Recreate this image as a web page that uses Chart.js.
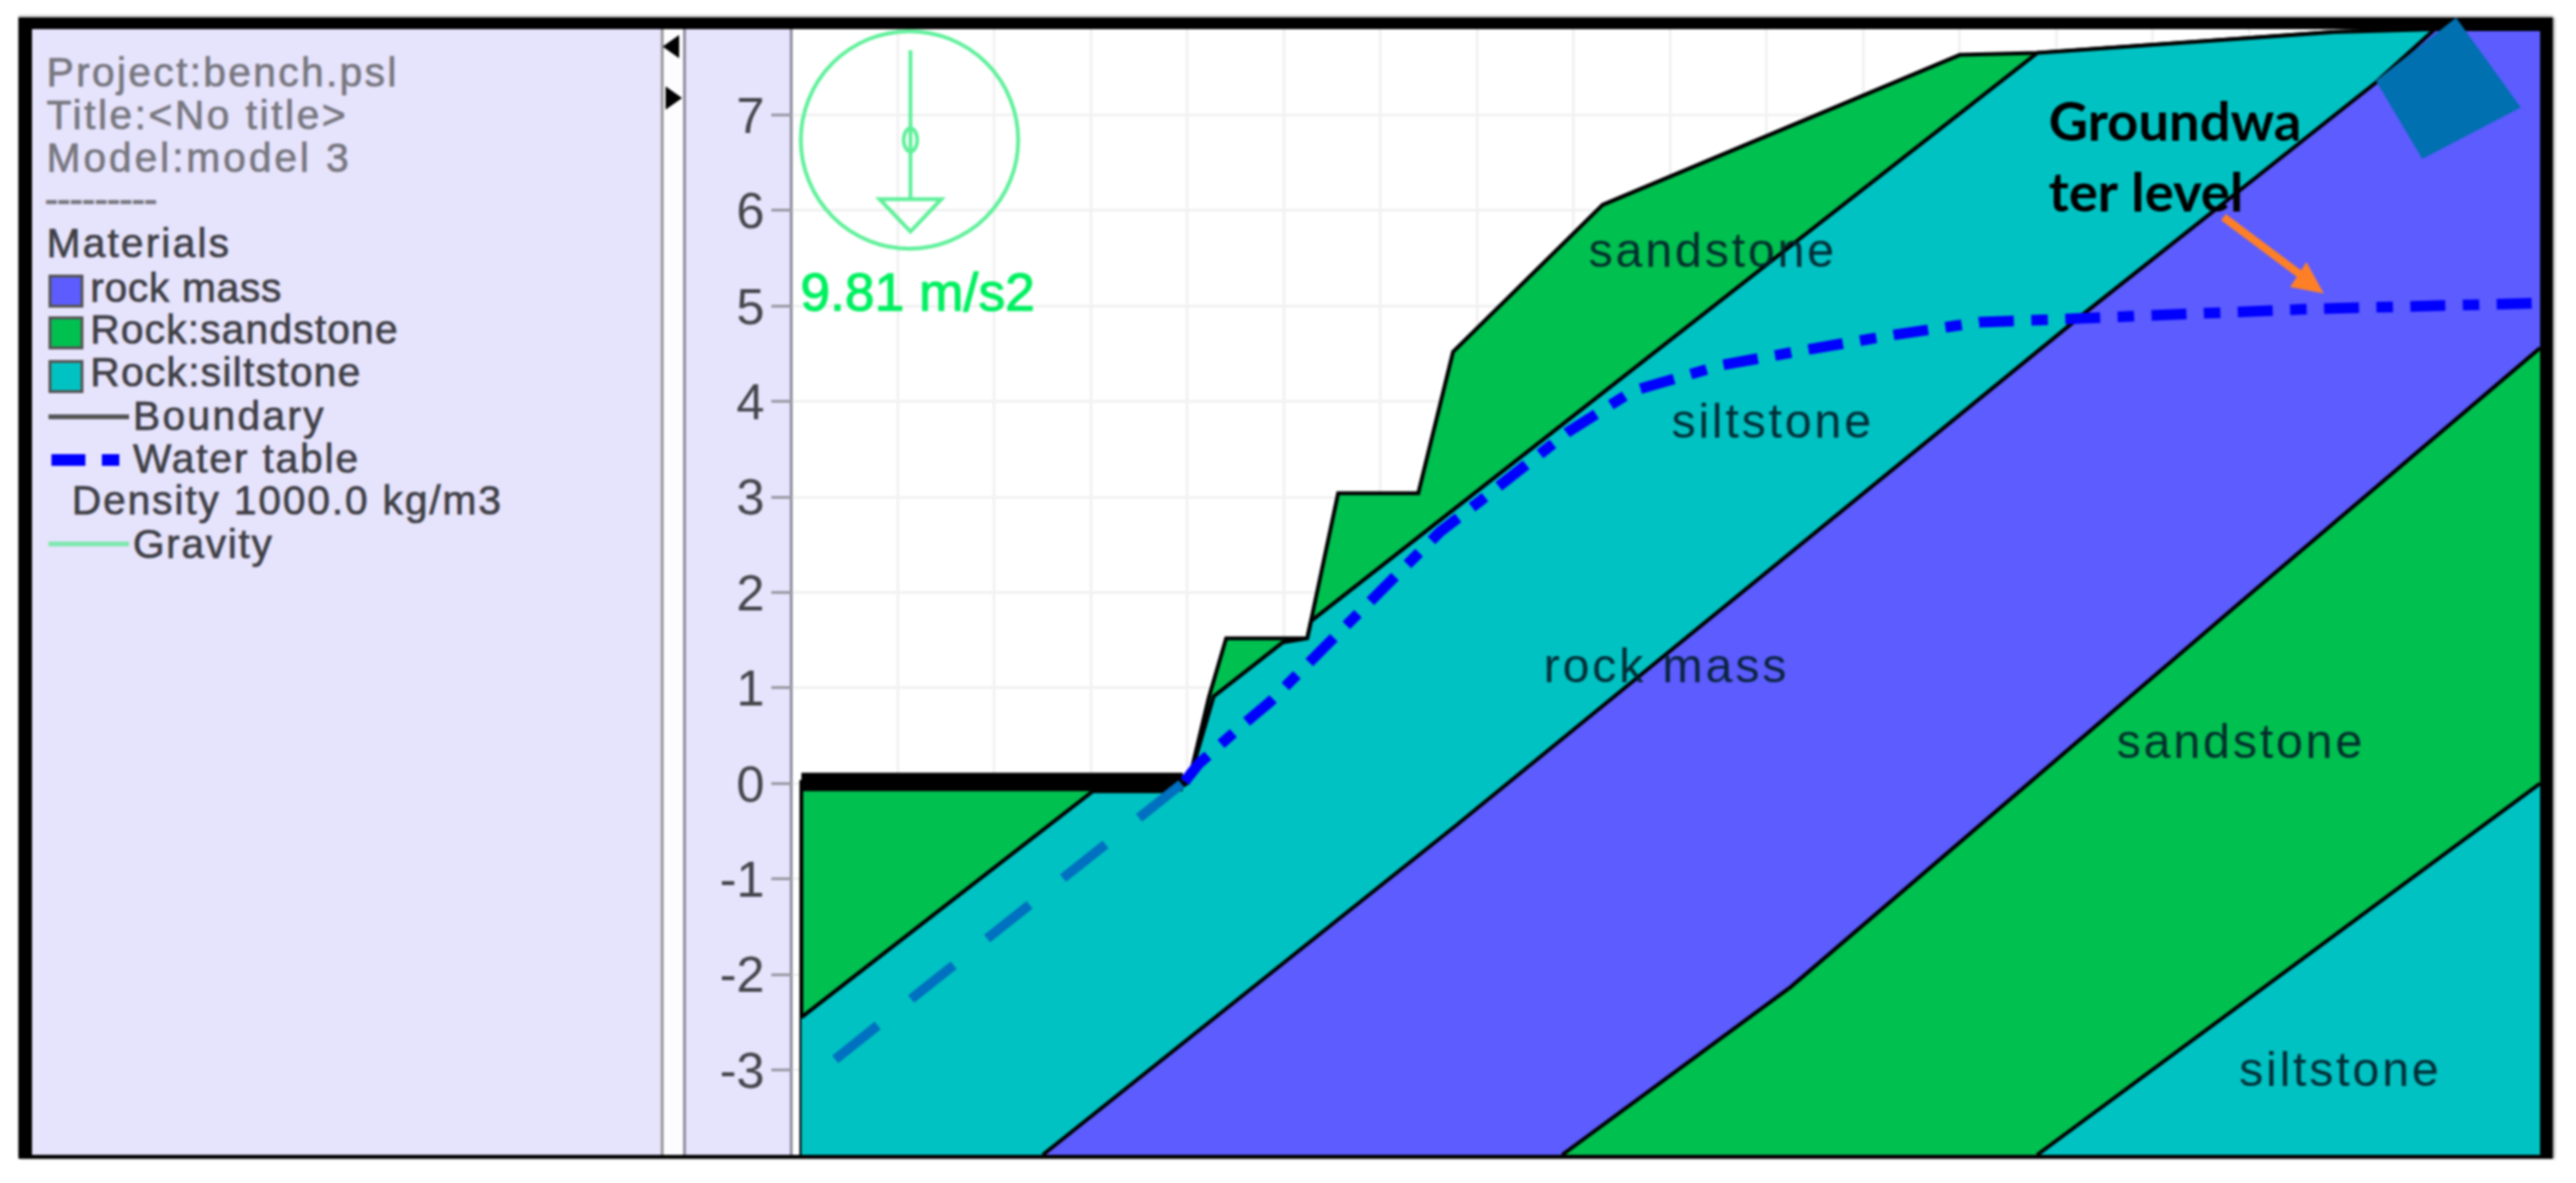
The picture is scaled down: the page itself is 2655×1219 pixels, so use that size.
<!DOCTYPE html>
<html>
<head>
<meta charset="utf-8">
<title>bench.psl</title>
<script src="https://cdn.jsdelivr.net/npm/chart.js@4/dist/chart.umd.min.js"></script>
<style>
html,body{margin:0;padding:0;background:#fff;width:2655px;height:1219px;overflow:hidden;font-family:"Liberation Sans",Arial,sans-serif}
#wrap{position:absolute;left:0;top:0;width:2655px;height:1219px;filter:blur(1px)}
#wrap div{position:absolute;box-sizing:border-box}
#frame{left:19px;top:18px;width:2612px;height:1176px;border:solid #000;border-width:12px 14px 4px 14px;background:#fff;box-shadow:0 -2px 2px #bbb,2px 0 2px #999}
#panel{left:33px;top:30px;width:648px;height:1160px;background:#e6e3fc}
#strip{left:704px;top:30px;width:113px;height:1160px;background:#e6e3fc;border-left:3px solid #8f8f9f;border-right:3px solid #8f8f9f}
#divider{left:681px;top:30px;width:23px;height:1160px;background:#fdfdff;border-left:3px solid #999}
.txt{font-size:42px;line-height:44px;height:44px;white-space:nowrap;color:#3f3f46;-webkit-text-stroke:0.7px currentColor}
.swatch{width:36px;height:34px;border:3px solid #555}
canvas{position:absolute;left:0;top:0}
</style>
</head>
<body>
<div id="wrap">
  <div id="frame"></div>
  <div id="panel"></div>
  <div id="divider"></div>
  <div id="strip"></div>
  <div style="left:683px;top:36px;width:0;height:0;border:solid transparent;border-width:12px 17px 12px 0;border-right-color:#000"></div>
  <div style="left:686px;top:89px;width:0;height:0;border:solid transparent;border-width:12px 0 12px 17px;border-left-color:#000"></div>
  <canvas id="chart" width="2655" height="1219" style="width:2655px;height:1219px"></canvas>
</div>
<script>
// slope geometry (x and y in model units)
var surfaceX = [0, 0, 4.01, 4.22, 4.40, 5.24, 5.56, 6.39, 6.75, 8.30, 12.00, 12.80, 15.87, 16.92, 18.01];
var surfaceY = [-3.89, 0.015, 0.01, 0.90, 1.52, 1.52, 3.04, 3.04, 4.52, 6.06, 7.63, 7.65, 7.87, 7.90, 7.90];
var groundX = [0, 3.95];
var groundY = [0.015, 0.015];
var siltTopX = [0, 3.02, 3.86, 4.01, 4.27, 4.99, 5.24, 5.28, 12.80, 15.87, 16.92, 18.01];
var siltTopY = [-2.45, -0.08, -0.08, 0.01, 0.91, 1.48, 1.52, 1.70, 7.65, 7.87, 7.90, 7.90];
var rockTopX = [2.50, 6.77, 13.26, 16.31, 16.92, 18.01];
var rockTopY = [-3.89, -0.45, 4.90, 7.34, 7.90, 7.90];
var sandLowX = [7.88, 10.25, 14.91, 18.01];
var sandLowY = [-3.89, -2.13, 1.90, 4.56];
var siltLowX = [12.80, 18.01];
var siltLowY = [-3.89, 0.0];
var waterLowX = [0.35, 3.97];
var waterLowY = [-2.89, 0.02];
var waterX = [3.97, 4.12, 4.58, 4.86, 5.43, 6.61, 7.02, 7.94, 8.61, 9.53, 10.40, 11.33, 12.20, 13.26, 15.63, 18.00];
var waterY = [0.02, 0.21, 0.62, 0.86, 1.44, 2.63, 2.95, 3.68, 4.11, 4.38, 4.54, 4.70, 4.83, 4.87, 4.97, 5.03];
var yTicks = [7, 6, 5, 4, 3, 2, 1, 0, -1, -2, -3];
var xTicks = [1, 2, 3, 4, 5, 6, 7, 8, 9, 10, 11, 12, 13, 14, 15, 16, 17];

var regionLabels = ['sandstone', 'siltstone', 'rock mass', 'sandstone', 'siltstone'];
var regionLabelX = [9.44, 10.06, 8.96, 14.91, 15.94];
var regionLabelY = [5.55, 3.76, 1.20, 0.41, -3.03];

var SAND = '#00c050', SILT = '#00c2c2', ROCK = '#5c5cff';

// left info panel: text, x, y, letter spacing, colour
var panelLines = [
  ['Project:bench.psl', 48, 75, 2.4, '#77777f'], ['Title:<No title>', 48, 119, 2.6, '#77777f'], ['Model:model 3', 48, 163, 3, '#77777f'],
  ['---------', 46, 206, -1.2, '#77777f'], ['Materials', 48, 251, 2.2], ['rock mass', 93, 297, 0.7], ['Rock:sandstone', 93, 340, 1.2],
  ['Rock:siltstone', 93, 384, 1.3], ['Boundary', 137, 429, 2.4], ['Water table', 137, 473, 1.9], ['Density 1000.0 kg/m3', 74, 516, 1.9], ['Gravity', 137, 561, 1.7]
];
var swatches = [[283, ROCK], [326, SAND], [371, SILT]];
var wrap = document.getElementById('wrap');
function addDiv(css, cls, text){
  var d = document.createElement('div');
  d.style.cssText = css; if(cls) d.className = cls; if(text) d.textContent = text;
  wrap.insertBefore(d, document.getElementById('chart'));
}
panelLines.forEach(function(l){ addDiv('left:'+l[1]+'px;top:'+(l[2]-22)+'px;letter-spacing:'+l[3]+'px;'+(l[4]?'color:'+l[4]:''), 'txt', l[0]); });
swatches.forEach(function(s){ addDiv('left:50px;top:'+s[0]+'px;background:'+s[1], 'swatch'); });
addDiv('left:50px;top:427px;width:83px;height:5px;background:#555');
addDiv('left:53px;top:468px;width:35px;height:12px;background:#0000ff');
addDiv('left:105px;top:468px;width:18px;height:12px;background:#0000ff');
addDiv('left:50px;top:558px;width:83px;height:5px;background:#80e8b0');

function pts(xs, ys){ return xs.map(function(x, i){ return {x:x, y:ys[i]}; }); }
function layer(xs, ys, color, order){
  return {data:pts(xs, ys), order:order, fill:color ? 'start' : false, backgroundColor:color || 'transparent',
    borderColor:'#000', borderWidth:4, pointRadius:0, tension:0};
}

// bits drawn on top of the plot, still placed through the scales
var overlays = {
  id:'overlays',
  afterDatasetsDraw:function(chart){
    var c = chart.ctx, sx = chart.scales.x, sy = chart.scales.y;
    function X(v){ return sx.getPixelForValue(v); }
    function Y(v){ return sy.getPixelForValue(v); }
    c.save();
    // gravity symbol
    c.strokeStyle = '#5ff09a'; c.lineWidth = 4;
    c.beginPath(); c.arc(X(1.12), Y(6.74), 112, 0, Math.PI*2); c.stroke();
    c.beginPath(); c.moveTo(X(1.13), Y(7.68)); c.lineTo(X(1.13), Y(6.12)); c.stroke();
    c.beginPath(); c.ellipse(X(1.13), Y(6.74), 7, 12, 0, 0, Math.PI*2); c.stroke();
    c.beginPath(); c.moveTo(X(0.81), Y(6.12)); c.lineTo(X(1.45), Y(6.12)); c.lineTo(X(1.13), Y(5.78)); c.closePath(); c.stroke();
    c.fillStyle = c.strokeStyle = '#00f060'; c.lineWidth = 1.2; c.font = '55px "Liberation Sans"';
    c.textAlign = 'left'; c.textBaseline = 'middle';
    c.fillText('9.81 m/s2', X(-0.01), Y(5.11));
    c.strokeText('9.81 m/s2', X(-0.01), Y(5.11));
    // region names
    c.fillStyle = 'rgba(0,30,40,0.9)'; c.font = '50px "Liberation Sans"';
    c.letterSpacing = '2.8px'; c.textAlign = 'center';
    regionLabels.forEach(function(t, i){ c.fillText(t, X(regionLabelX[i]), Y(regionLabelY[i])); });
    c.letterSpacing = '0px';
    // cover patch top right
    c.fillStyle = '#0070b0';
    c.beginPath(); c.moveTo(X(17.14), Y(8.02)); c.lineTo(X(17.81), Y(7.08)); c.lineTo(X(16.79), Y(6.54)); c.lineTo(X(16.31), Y(7.36)); c.closePath(); c.fill();
    // groundwater note and arrow
    c.fillStyle = '#000'; c.font = 'bold 56px Lato'; c.textAlign = 'left';
    c.fillText('Groundwa', X(12.92), Y(6.91));
    c.fillText('ter level', X(12.92), Y(6.17));
    c.strokeStyle = c.fillStyle = '#ff7f27'; c.lineWidth = 8;
    c.beginPath(); c.moveTo(X(14.73), Y(5.93)); c.lineTo(X(15.55), Y(5.31)); c.stroke();
    c.beginPath(); c.moveTo(X(15.77), Y(5.13)); c.lineTo(X(15.59), Y(5.46)); c.lineTo(X(15.42), Y(5.20)); c.closePath(); c.fill();
    c.restore();
  }
};

new Chart(document.getElementById('chart'), {
  type:'line',
  plugins:[overlays],
  data:{datasets:[
    Object.assign(layer(waterX, waterY), {order:1, borderColor:'#0000ff', borderWidth:11, borderDash:[36, 18, 17, 18]}),
    Object.assign(layer(waterLowX, waterLowY), {order:2, borderColor:'#0070c0', borderWidth:10, borderDash:[56, 44]}),
    Object.assign(layer(groundX, groundY), {order:3, borderWidth:19}),
    layer(siltLowX, siltLowY, SILT, 4),
    layer(sandLowX, sandLowY, SAND, 5),
    layer(rockTopX, rockTopY, ROCK, 6),
    layer(siltTopX, siltTopY, SILT, 7),
    layer(surfaceX, surfaceY, SAND, 8)
  ]},
  options:{
    responsive:false, animation:false, devicePixelRatio:1,
    layout:{padding:{left:0, top:30, right:37, bottom:29}},
    plugins:{legend:{display:false}, tooltip:{enabled:false}},
    scales:{
      x:{type:'linear', min:-0.09, max:18.01,
        afterBuildTicks:function(s){ s.ticks = xTicks.map(function(v){ return {value:v}; }); },
        afterFit:function(s){ s.height = 0; s.paddingLeft = s.paddingRight = 0; },
        ticks:{display:false}, border:{display:false},
        grid:{color:'#f2f2f2', lineWidth:3, drawTicks:false}},
      y:{min:-3.89, max:7.90,
        afterBuildTicks:function(s){ s.ticks = yTicks.map(function(v){ return {value:v}; }); },
        afterFit:function(s){ s.width = 817; s.paddingTop = s.paddingBottom = 0; },
        ticks:{color:'#44444a', font:{family:'"Liberation Sans"', size:52}, padding:7, labelOffset:4, callback:function(v){ return String(v); }},
        border:{display:false},
        grid:{color:'#f2f2f2', lineWidth:3, tickLength:22, tickColor:'#9a9aa5', tickWidth:3}}
    }
  }
});
</script>
</body>
</html>
